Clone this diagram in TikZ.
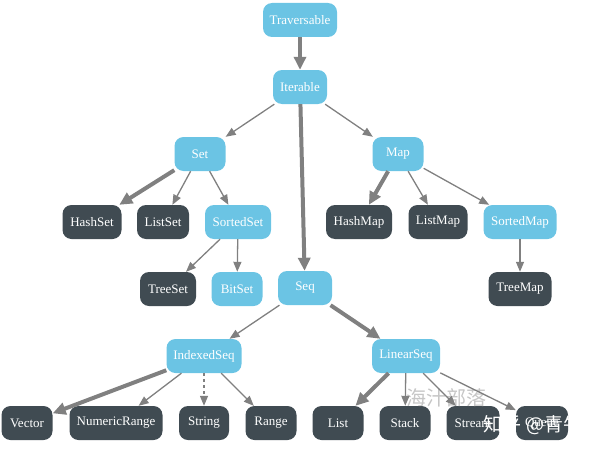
\documentclass[tikz,border=0pt]{standalone}
\usepackage{fontspec}
\setmainfont{Liberation Serif}
\newfontfamily\cjkfont{Noto Sans CJK SC}
\usetikzlibrary{arrows.meta}
\definecolor{lb}{RGB}{107,196,228}
\definecolor{dk}{RGB}{64,75,82}
\definecolor{eg}{RGB}{128,128,128}
\tikzset{
  base/.style={rounded corners=9pt, minimum height=34pt, inner sep=0pt, text=white, font=\fontsize{13}{15}\selectfont},
  trait/.style={base, fill=lb},
  cls/.style={base, fill=dk},
  thick edge/.style={draw=eg, line width=4pt, -{Triangle[length=13pt,width=12pt]}},
  thin edge/.style={draw=eg, line width=1.3pt, -{Triangle[length=10pt,width=8pt]}},
  wmark/.style={font=\cjkfont\fontsize{19}{21}\selectfont},
}
\begin{document}
\begin{tikzpicture}[x=1pt,y=1pt]
\useasboundingbox (0,0) rectangle (596,451);
% nodes (y = 451 - ypx)
\node[trait, minimum width=74pt] (trav) at (300,431) {Traversable};
\node[trait, minimum width=54pt] (iter) at (300,364) {Iterable};
\node[trait, minimum width=51pt] (set) at (200,297) {Set};
\node[trait, minimum width=51pt] (map) at (398,297) {Map};
\node[cls, minimum width=59pt] (hashset) at (92,229) {HashSet};
\node[cls, minimum width=52pt] (listset) at (163,229) {ListSet};
\node[trait, minimum width=66pt] (sortedset) at (238,229) {SortedSet};
\node[cls, minimum width=56pt] (treeset) at (168,162) {TreeSet};
\node[trait, minimum width=51pt] (bitset) at (237,162) {BitSet};
\node[trait, minimum width=54pt] (seq) at (305,163) {Seq};
\node[cls, minimum width=66pt] (hashmap) at (359,229) {HashMap};
\node[cls, minimum width=59pt] (listmap) at (438,229) {ListMap};
\node[trait, minimum width=73pt] (sortedmap) at (520,229) {SortedMap};
\node[cls, minimum width=63pt] (treemap) at (520,162) {TreeMap};
\node[trait, minimum width=75pt] (indexedseq) at (204,95) {IndexedSeq};
\node[trait, minimum width=68pt] (linearseq) at (406,95) {LinearSeq};
\node[cls, minimum width=51pt] (vector) at (27,28) {Vector};
\node[cls, minimum width=93pt] (numrange) at (116,28) {NumericRange};
\node[cls, minimum width=50pt] (string) at (204,28) {String};
\node[cls, minimum width=51pt] (range) at (271,28) {Range};
\node[cls, minimum width=51pt] (list) at (338,28) {List};
\node[cls, minimum width=51pt] (stack) at (405,28) {Stack};
\node[cls, minimum width=53pt] (stream) at (473,28) {Stream};
\node[cls, minimum width=52pt] (queue) at (542,28) {Queue};
% thick edges
\draw[thick edge] (trav) -- (iter);
\draw[thick edge] (iter) -- (seq);
\draw[thick edge] (set) -- (hashset);
\draw[thick edge] (map) -- (hashmap);
\draw[thick edge] (seq) -- (linearseq);
\draw[thick edge] (indexedseq) -- (vector);
\draw[thick edge] (linearseq) -- (list);
% thin edges
\draw[thin edge] (iter) -- (set);
\draw[thin edge] (iter) -- (map);
\draw[thin edge] (set) -- (listset);
\draw[thin edge] (set) -- (sortedset);
\draw[thin edge] (sortedset) -- (treeset);
\draw[thin edge] (sortedset) -- (bitset);
\draw[thin edge] (map) -- (listmap);
\draw[thin edge] (map) -- (sortedmap);
\draw[thin edge] (sortedmap) -- (treemap);
\draw[thin edge] (seq) -- (indexedseq);
\draw[thin edge] (indexedseq) -- (numrange);
\draw[thin edge, dashed] (indexedseq) -- (string);
\draw[thin edge] (indexedseq) -- (range);
\draw[thin edge] (linearseq) -- (stack);
\draw[thin edge] (linearseq) -- (stream);
\draw[thin edge] (linearseq) -- (queue);
% watermarks
\node[wmark, text=gray, opacity=0.45, font=\cjkfont\fontsize{20}{22}\selectfont] (wm1) at (446,53) {海汁部落};
\node[wmark, text=white] (wm2) at (533,26) {知乎 @青牛};
\end{tikzpicture}
\end{document}
